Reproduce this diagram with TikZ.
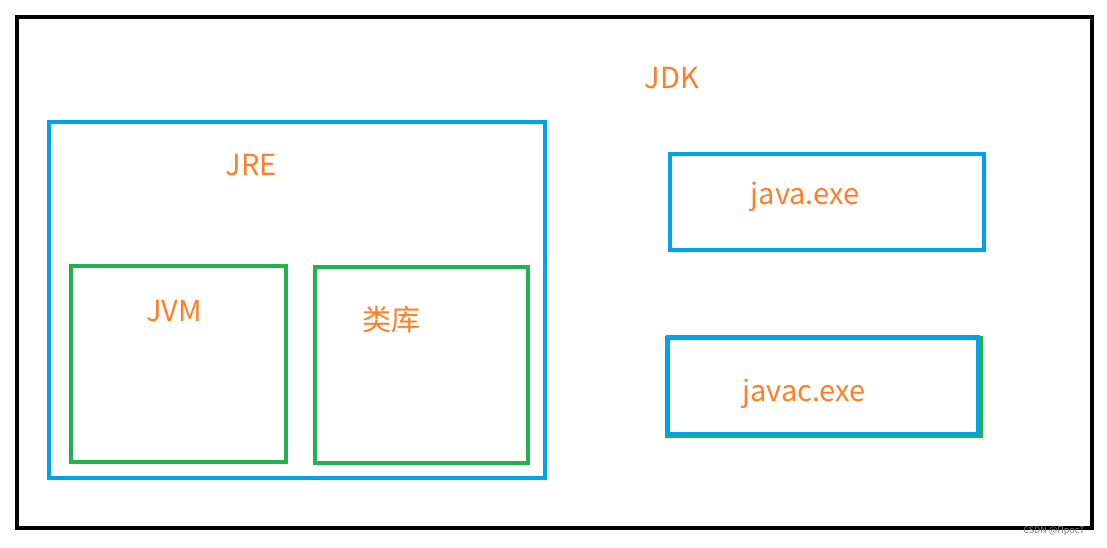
\documentclass[tikz,border=0pt]{standalone}
\usepackage{fontspec}
\setmainfont{Noto Sans CJK SC}
\definecolor{org}{RGB}{255,127,39}
\definecolor{blu}{RGB}{0,162,232}
\definecolor{grn}{RGB}{34,177,76}
\begin{document}
\begin{tikzpicture}[x=1pt,y=-1pt,
  lbl/.style={text=org,font=\fontsize{29}{32}\selectfont,inner sep=0pt},
  bbox/.style={draw=blu,line width=4pt},
  gbox/.style={draw=grn,line width=4pt}]
\useasboundingbox (0,0) rectangle (1107,548);
\fill[white] (0,0) rectangle (1107,548);
\draw[line width=4.5pt] (17,17) rectangle (1092,528);
\node[lbl] (jdk) at (672,78) {JDK};
\draw[bbox] (49,122) rectangle (545,478);
\node[lbl] (jre) at (251,165) {JRE};
\draw[gbox] (71,266) rectangle (286,462);
\node[lbl] (jvm) at (174,311) {JVM};
\draw[gbox] (315,267) rectangle (528,463);
\node[lbl] (lib) at (391,320) {类库};
\draw[bbox] (670,154) rectangle (984,250);
\node[lbl] (java) at (805,197) {java.exe};
\draw[gbox] (667,338) rectangle (981,436);
\draw[bbox] (668,337) rectangle (978,434);
\node[lbl] (javac) at (804,394) {javac.exe};
\node[text=gray,font=\fontsize{9}{10}\selectfont,inner sep=0pt] (wm) at (1054,531) {CSDN @ПросТ};
\end{tikzpicture}
\end{document}
